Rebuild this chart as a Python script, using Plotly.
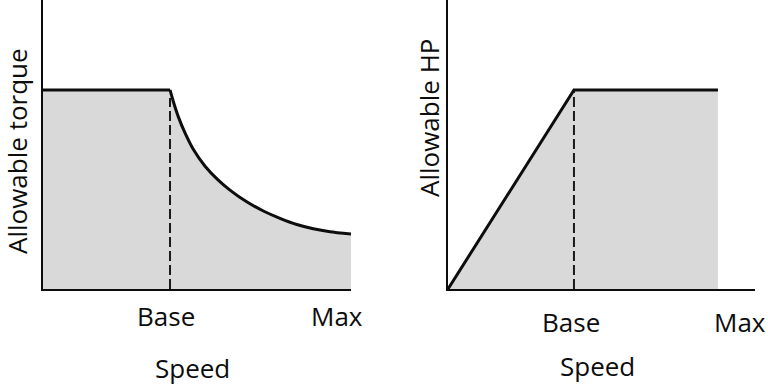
import plotly.graph_objects as go

W, H = 768, 385

# ---- data (normalized units: base speed = 1, rated value = 1) ----
torque_speed = [0.0, 1.0, 1.026, 1.065, 1.118, 1.183, 1.276, 1.380, 1.472, 1.604, 1.735,
                1.866, 1.998, 2.128, 2.260, 2.425]
torque_value = [1.0, 1.0, 0.942, 0.866, 0.784, 0.702, 0.617, 0.547, 0.497, 0.438, 0.392,
                0.355, 0.324, 0.303, 0.288, 0.276]

hp_speed = [0.0, 1.0, 2.143]
hp_value = [0.0, 1.0, 1.0]

base_speed = 1.0
tick_labels = ["Base", "Max"]
left_tick_pos = [0.97, 2.315]
right_tick_pos = [0.98, 2.317]

left_xrange = [0, 2.425]
right_xrange = [0, 2.437]
yrange = [0, 1.452]

FILL = "#d9d9d9"
INK = "#0d0d0d"
FONT = "Open Sans"

fig = go.Figure()

# left panel
fig.add_trace(go.Scatter(x=torque_speed + [torque_speed[-1]], y=torque_value + [0],
                         mode="lines", line=dict(width=0), fill="tozeroy",
                         fillcolor=FILL, xaxis="x", yaxis="y", hoverinfo="skip"))
fig.add_trace(go.Scatter(x=[base_speed, base_speed], y=[0, 0.96], mode="lines",
                         line=dict(color="#1a1a1a", width=2, dash="10px,4px"),
                         xaxis="x", yaxis="y"))
fig.add_trace(go.Scatter(x=torque_speed[:2], y=torque_value[:2], mode="lines",
                         line=dict(color=INK, width=3), xaxis="x", yaxis="y"))
fig.add_trace(go.Scatter(x=torque_speed[1:], y=torque_value[1:], mode="lines",
                         line=dict(color=INK, width=3, shape="spline", smoothing=0.6),
                         xaxis="x", yaxis="y"))

# right panel
fig.add_trace(go.Scatter(x=hp_speed + [hp_speed[-1]], y=hp_value + [0], mode="lines",
                         line=dict(width=0), fill="tozeroy", fillcolor=FILL,
                         xaxis="x2", yaxis="y2", hoverinfo="skip"))
fig.add_trace(go.Scatter(x=[base_speed, base_speed], y=[0, 1.0], mode="lines",
                         line=dict(color="#1a1a1a", width=2, dash="10px,4px"),
                         xaxis="x2", yaxis="y2"))
fig.add_trace(go.Scatter(x=hp_speed, y=hp_value, mode="lines",
                         line=dict(color=INK, width=3), xaxis="x2", yaxis="y2"))

def py(p):
    return 1 - p / H

ax = dict(showgrid=False, zeroline=False, showticklabels=False, ticks="",
          showline=True, linecolor=INK, linewidth=2, fixedrange=True)

fig.update_layout(
    width=W, height=H, margin=dict(l=0, r=0, t=0, b=0),
    paper_bgcolor="white", plot_bgcolor="white", showlegend=False,
    xaxis=dict(ax, domain=[43 / W, 351 / W], range=left_xrange, anchor="y"),
    yaxis=dict(ax, domain=[py(289), 1], range=yrange, anchor="x"),
    xaxis2=dict(ax, domain=[448 / W, 755 / W], range=right_xrange, anchor="y2"),
    yaxis2=dict(ax, domain=[py(289), 1], range=yrange, anchor="x2"),
)

def A(**kw):
    d = dict(showarrow=False, xanchor="center", yanchor="middle",
             font=dict(family=FONT, size=26, color=INK))
    d.update(kw)
    return d

ann = []
for lbl, xp in zip(tick_labels, left_tick_pos):
    ann.append(A(x=xp, y=py(316), xref="x", yref="paper", text=lbl))
for lbl, xp in zip(tick_labels, right_tick_pos):
    ann.append(A(x=xp, y=py(322), xref="x2", yref="paper", text=lbl))
ann.append(A(x=192 / W, y=py(368), xref="paper", yref="paper", text="Speed"))
ann.append(A(x=597 / W, y=py(366), xref="paper", yref="paper", text="Speed"))
ann.append(A(x=17 / W, y=py(151), xref="paper", yref="paper", text="Allowable torque",
             textangle=-90))
ann.append(A(x=429 / W, y=py(118), xref="paper", yref="paper", text="Allowable HP",
             textangle=-90))
fig.update_layout(annotations=ann)

fig.write_html("out.html", config={"displayModeBar": False},
               post_script="document.body.style.margin='0';document.body.style.padding='0';")
